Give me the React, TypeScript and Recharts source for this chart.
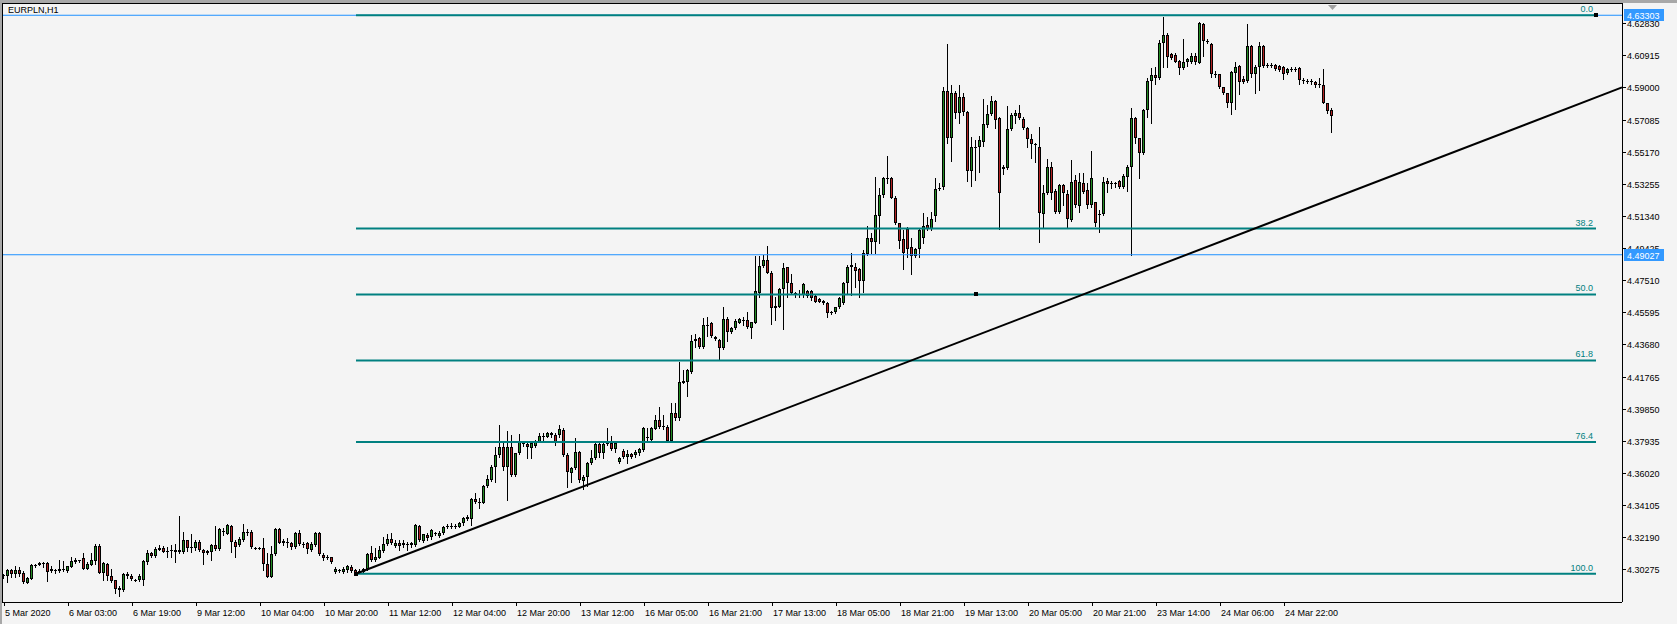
import React from "react";
import {
  ComposedChart,
  Bar,
  XAxis,
  YAxis,
  ReferenceLine,
  ReferenceDot,
} from "recharts";

// [open, high, low, close] per H1 bar, oldest first
type Ohlc = [number, number, number, number];

const mar05_09: Ohlc[] = [
  [4.2990, 4.3000, 4.2976, 4.2994], [4.2986, 4.3032, 4.2952, 4.3022], [4.3022, 4.3032, 4.2982, 4.2998],
  [4.2998, 4.3046, 4.2982, 4.3022], [4.3022, 4.3042, 4.2986, 4.2998], [4.3006, 4.3018, 4.2946, 4.2952],
  [4.2948, 4.2982, 4.2946, 4.2976], [4.2970, 4.3062, 4.2968, 4.3056], [4.3048, 4.3062, 4.3042, 4.3056],
  [4.3054, 4.3070, 4.3052, 4.3068], [4.3068, 4.3072, 4.3042, 4.3062], [4.3066, 4.3072, 4.2956, 4.3014],
  [4.3032, 4.3046, 4.3010, 4.3016], [4.3020, 4.3032, 4.3006, 4.3022], [4.3018, 4.3082, 4.3012, 4.3032],
  [4.3030, 4.3076, 4.3016, 4.3028], [4.3018, 4.3050, 4.3012, 4.3046], [4.3042, 4.3102, 4.3042, 4.3076],
  [4.3072, 4.3092, 4.3068, 4.3082], [4.3080, 4.3082, 4.3072, 4.3078], [4.3092, 4.3122, 4.3030, 4.3032],
  [4.3032, 4.3072, 4.3028, 4.3058], [4.3056, 4.3126, 4.3052, 4.3082], [4.3078, 4.3176, 4.3058, 4.3164],
  [4.3164, 4.3176, 4.3006, 4.3008], [4.3008, 4.3070, 4.2962, 4.3066], [4.3062, 4.3066, 4.2962, 4.2986],
  [4.2990, 4.3032, 4.2952, 4.2958], [4.2962, 4.2966, 4.2886, 4.2910], [4.2918, 4.2926, 4.2868, 4.2906],
  [4.2902, 4.3006, 4.2898, 4.2998], [4.2986, 4.3012, 4.2978, 4.2998], [4.2990, 4.2998, 4.2962, 4.2968],
  [4.2966, 4.2972, 4.2960, 4.2964], [4.2962, 4.2998, 4.2958, 4.2990], [4.2966, 4.3082, 4.2936, 4.3078],
  [4.3070, 4.3140, 4.3062, 4.3126], [4.3126, 4.3132, 4.3102, 4.3106], [4.3106, 4.3160, 4.3102, 4.3148],
  [4.3144, 4.3170, 4.3140, 4.3154], [4.3156, 4.3164, 4.3128, 4.3132], [4.3132, 4.3160, 4.3098, 4.3134],
  [4.3136, 4.3170, 4.3102, 4.3140], [4.3132, 4.3180, 4.3072, 4.3144], [4.3144, 4.3344, 4.3122, 4.3128],
  [4.3128, 4.3250, 4.3122, 4.3200], [4.3200, 4.3204, 4.3138, 4.3154], [4.3154, 4.3240, 4.3132, 4.3160],
  [4.3154, 4.3200, 4.3144, 4.3190], [4.3190, 4.3200, 4.3138, 4.3144], [4.3144, 4.3150, 4.3062, 4.3122],
  [4.3122, 4.3140, 4.3118, 4.3138], [4.3132, 4.3180, 4.3082, 4.3174], [4.3174, 4.3286, 4.3144, 4.3150],
  [4.3150, 4.3276, 4.3144, 4.3270], [4.3258, 4.3272, 4.3232, 4.3250], [4.3240, 4.3300, 4.3236, 4.3292],
];

const mar09_12: Ohlc[] = [
  [4.3284, 4.3290, 4.3132, 4.3192], [4.3192, 4.3200, 4.3102, 4.3162], [4.3172, 4.3220, 4.3168, 4.3210],
  [4.3200, 4.3300, 4.3198, 4.3250], [4.3250, 4.3270, 4.3234, 4.3244], [4.3250, 4.3264, 4.3152, 4.3158],
  [4.3154, 4.3158, 4.3146, 4.3152], [4.3152, 4.3162, 4.3146, 4.3150], [4.3152, 4.3214, 4.3022, 4.3062],
  [4.3062, 4.3122, 4.2980, 4.2982], [4.2982, 4.3166, 4.2980, 4.3116], [4.3116, 4.3276, 4.3112, 4.3266],
  [4.3266, 4.3276, 4.3182, 4.3186], [4.3196, 4.3210, 4.3172, 4.3186], [4.3188, 4.3214, 4.3162, 4.3184],
  [4.3186, 4.3192, 4.3146, 4.3158], [4.3158, 4.3250, 4.3152, 4.3246], [4.3246, 4.3260, 4.3172, 4.3178],
  [4.3178, 4.3192, 4.3158, 4.3176], [4.3182, 4.3188, 4.3122, 4.3146], [4.3142, 4.3192, 4.3136, 4.3178],
  [4.3172, 4.3250, 4.3168, 4.3244], [4.3244, 4.3250, 4.3112, 4.3116], [4.3112, 4.3122, 4.3082, 4.3096],
  [4.3100, 4.3112, 4.3086, 4.3102], [4.3098, 4.3102, 4.3066, 4.3072], [4.3010, 4.3042, 4.3006, 4.3030],
  [4.3024, 4.3032, 4.3012, 4.3022], [4.3012, 4.3042, 4.3008, 4.3030], [4.3022, 4.3052, 4.3012, 4.3046],
  [4.3042, 4.3052, 4.3010, 4.3016], [4.3022, 4.3032, 4.3001, 4.3004], [4.3016, 4.3028, 4.3008, 4.3020],
  [4.3012, 4.3038, 4.3008, 4.3032], [4.3032, 4.3122, 4.3022, 4.3116], [4.3122, 4.3166, 4.3078, 4.3082],
  [4.3082, 4.3152, 4.3076, 4.3102], [4.3096, 4.3166, 4.3092, 4.3142], [4.3136, 4.3220, 4.3132, 4.3176],
  [4.3176, 4.3240, 4.3172, 4.3210], [4.3210, 4.3246, 4.3176, 4.3182], [4.3166, 4.3200, 4.3162, 4.3186],
  [4.3186, 4.3200, 4.3142, 4.3166], [4.3172, 4.3200, 4.3162, 4.3186], [4.3178, 4.3192, 4.3142, 4.3176],
  [4.3172, 4.3192, 4.3162, 4.3186], [4.3172, 4.3296, 4.3166, 4.3290], [4.3284, 4.3290, 4.3196, 4.3200],
  [4.3198, 4.3240, 4.3192, 4.3236], [4.3234, 4.3244, 4.3200, 4.3214], [4.3220, 4.3270, 4.3210, 4.3260],
  [4.3240, 4.3250, 4.3232, 4.3242], [4.3224, 4.3256, 4.3220, 4.3244], [4.3242, 4.3284, 4.3238, 4.3280],
  [4.3280, 4.3300, 4.3272, 4.3288],
];

const mar12_16: Ohlc[] = [
  [4.3286, 4.3301, 4.3272, 4.3285], [4.3285, 4.3295, 4.3272, 4.3284], [4.3282, 4.3311, 4.3278, 4.3301],
  [4.3301, 4.3337, 4.3291, 4.3331], [4.3325, 4.3351, 4.3321, 4.3341], [4.3325, 4.3450, 4.3291, 4.3444],
  [4.3444, 4.3480, 4.3425, 4.3431], [4.3428, 4.3450, 4.3391, 4.3425], [4.3425, 4.3530, 4.3421, 4.3524],
  [4.3524, 4.3590, 4.3520, 4.3566], [4.3560, 4.3649, 4.3556, 4.3635], [4.3635, 4.3758, 4.3550, 4.3709],
  [4.3709, 4.3888, 4.3699, 4.3758], [4.3758, 4.3788, 4.3619, 4.3635], [4.3635, 4.3854, 4.3440, 4.3758],
  [4.3758, 4.3828, 4.3586, 4.3590], [4.3590, 4.3723, 4.3586, 4.3719], [4.3719, 4.3834, 4.3715, 4.3788],
  [4.3780, 4.3788, 4.3762, 4.3778], [4.3772, 4.3778, 4.3693, 4.3754], [4.3748, 4.3788, 4.3693, 4.3778],
  [4.3762, 4.3798, 4.3758, 4.3788], [4.3788, 4.3838, 4.3784, 4.3822], [4.3822, 4.3838, 4.3794, 4.3820],
  [4.3818, 4.3848, 4.3814, 4.3838], [4.3838, 4.3848, 4.3818, 4.3828], [4.3828, 4.3838, 4.3768, 4.3778],
  [4.3828, 4.3888, 4.3818, 4.3864], [4.3858, 4.3868, 4.3703, 4.3709], [4.3709, 4.3719, 4.3520, 4.3609],
  [4.3603, 4.3639, 4.3550, 4.3629], [4.3629, 4.3808, 4.3623, 4.3729], [4.3729, 4.3733, 4.3550, 4.3560],
  [4.3556, 4.3590, 4.3504, 4.3580], [4.3580, 4.3669, 4.3524, 4.3659], [4.3659, 4.3739, 4.3653, 4.3689],
  [4.3689, 4.3788, 4.3683, 4.3772], [4.3772, 4.3782, 4.3699, 4.3723], [4.3719, 4.3778, 4.3689, 4.3772],
  [4.3772, 4.3868, 4.3768, 4.3788], [4.3778, 4.3822, 4.3739, 4.3742], [4.3742, 4.3784, 4.3729, 4.3778],
  [4.3665, 4.3699, 4.3663, 4.3689], [4.3735, 4.3742, 4.3689, 4.3699], [4.3699, 4.3739, 4.3663, 4.3715],
  [4.3715, 4.3723, 4.3693, 4.3699], [4.3709, 4.3739, 4.3699, 4.3729], [4.3723, 4.3748, 4.3709, 4.3742],
  [4.3739, 4.3874, 4.3735, 4.3868], [4.3816, 4.3868, 4.3788, 4.3814], [4.3800, 4.3878, 4.3796, 4.3870],
  [4.3866, 4.3950, 4.3862, 4.3917], [4.3917, 4.3997, 4.3868, 4.3878], [4.3882, 4.3947, 4.3866, 4.3876],
  [4.3878, 4.3888, 4.3790, 4.3794],
];

const mar16_18: Ohlc[] = [
  [4.3794, 4.4017, 4.3790, 4.3961], [4.3961, 4.4021, 4.3917, 4.3927], [4.3927, 4.4265, 4.3917, 4.4146],
  [4.4140, 4.4215, 4.4136, 4.4152], [4.4146, 4.4219, 4.4062, 4.4215], [4.4206, 4.4424, 4.4200, 4.4388],
  [4.4388, 4.4428, 4.4355, 4.4400], [4.4404, 4.4414, 4.4345, 4.4351], [4.4351, 4.4523, 4.4345, 4.4484],
  [4.4482, 4.4529, 4.4418, 4.4478], [4.4498, 4.4504, 4.4414, 4.4418], [4.4414, 4.4418, 4.4394, 4.4398],
  [4.4394, 4.4398, 4.4279, 4.4345], [4.4345, 4.4589, 4.4341, 4.4517], [4.4517, 4.4529, 4.4390, 4.4444],
  [4.4444, 4.4474, 4.4438, 4.4468], [4.4468, 4.4517, 4.4462, 4.4508], [4.4498, 4.4523, 4.4494, 4.4517],
  [4.4516, 4.4529, 4.4484, 4.4514], [4.4514, 4.4563, 4.4464, 4.4470], [4.4464, 4.4504, 4.4404, 4.4500],
  [4.4498, 4.4895, 4.4494, 4.4686], [4.4676, 4.4895, 4.4649, 4.4835], [4.4835, 4.4901, 4.4831, 4.4871],
  [4.4871, 4.4957, 4.4792, 4.4796], [4.4796, 4.4808, 4.4488, 4.4583], [4.4597, 4.4653, 4.4514, 4.4583],
  [4.4589, 4.4702, 4.4589, 4.4696], [4.4696, 4.4855, 4.4458, 4.4821], [4.4827, 4.4831, 4.4653, 4.4732],
  [4.4732, 4.4788, 4.4668, 4.4672], [4.4676, 4.4682, 4.4653, 4.4668], [4.4668, 4.4692, 4.4653, 4.4666],
  [4.4663, 4.4732, 4.4653, 4.4728], [4.4686, 4.4692, 4.4653, 4.4659], [4.4686, 4.4692, 4.4633, 4.4643],
  [4.4659, 4.4663, 4.4619, 4.4623], [4.4639, 4.4647, 4.4619, 4.4623], [4.4629, 4.4633, 4.4609, 4.4613],
  [4.4617, 4.4623, 4.4529, 4.4553], [4.4563, 4.4567, 4.4549, 4.4553], [4.4563, 4.4593, 4.4557, 4.4589],
  [4.4589, 4.4653, 4.4583, 4.4643], [4.4613, 4.4742, 4.4609, 4.4736], [4.4732, 4.4841, 4.4668, 4.4831],
  [4.4831, 4.4915, 4.4663, 4.4839], [4.4827, 4.4851, 4.4712, 4.4808], [4.4816, 4.4821, 4.4649, 4.4748],
  [4.4748, 4.4931, 4.4682, 4.4911], [4.4907, 4.5074, 4.4901, 4.5000],
];

const mar18_20: Ohlc[] = [
  [4.5000, 4.5030, 4.4915, 4.4980], [4.4980, 4.5368, 4.4911, 4.5139], [4.5135, 4.5298, 4.4970, 4.5258],
  [4.5258, 4.5368, 4.5248, 4.5358], [4.5358, 4.5491, 4.5328, 4.5356], [4.5358, 4.5364, 4.5239, 4.5243],
  [4.5239, 4.5252, 4.5086, 4.5090], [4.5090, 4.5094, 4.4941, 4.4986], [4.4994, 4.5050, 4.4815, 4.4915],
  [4.5054, 4.5070, 4.4891, 4.4935], [4.4950, 4.5000, 4.4786, 4.4895], [4.4895, 4.4941, 4.4891, 4.4937],
  [4.4935, 4.5054, 4.4891, 4.5050], [4.5000, 4.5149, 4.4970, 4.5076], [4.5080, 4.5130, 4.5050, 4.5056],
  [4.5056, 4.5159, 4.5050, 4.5113], [4.5133, 4.5358, 4.5105, 4.5292], [4.5296, 4.5328, 4.5288, 4.5298],
  [4.5304, 4.5904, 4.5292, 4.5878], [4.5878, 4.6159, 4.5566, 4.5596], [4.5596, 4.5914, 4.5461, 4.5868],
  [4.5864, 4.5878, 4.5715, 4.5745], [4.5745, 4.5914, 4.5686, 4.5845], [4.5841, 4.5864, 4.5735, 4.5751],
  [4.5755, 4.5759, 4.5342, 4.5403], [4.5403, 4.5606, 4.5312, 4.5543], [4.5545, 4.5586, 4.5348, 4.5541],
  [4.5543, 4.5610, 4.5398, 4.5586], [4.5576, 4.5829, 4.5551, 4.5680], [4.5676, 4.5795, 4.5666, 4.5739],
  [4.5739, 4.5849, 4.5735, 4.5819], [4.5819, 4.5825, 4.5656, 4.5706], [4.5715, 4.5721, 4.5054, 4.5272],
  [4.5411, 4.5437, 4.5382, 4.5423], [4.5417, 4.5789, 4.5411, 4.5650], [4.5654, 4.5745, 4.5646, 4.5735],
  [4.5729, 4.5765, 4.5690, 4.5745], [4.5745, 4.5795, 4.5709, 4.5715], [4.5709, 4.5721, 4.5652, 4.5656],
  [4.5656, 4.5666, 4.5547, 4.5590], [4.5590, 4.5622, 4.5477, 4.5560], [4.5561, 4.5566, 4.5457, 4.5559],
  [4.5543, 4.5662, 4.4976, 4.5149], [4.5143, 4.5318, 4.5060, 4.5272], [4.5272, 4.5473, 4.5264, 4.5423],
  [4.5423, 4.5457, 4.5233, 4.5272], [4.5282, 4.5292, 4.5149, 4.5159], [4.5159, 4.5324, 4.5153, 4.5318],
  [4.5318, 4.5324, 4.5199, 4.5268], [4.5262, 4.5288, 4.5066, 4.5113], [4.5111, 4.5467, 4.5105, 4.5334],
  [4.5350, 4.5380, 4.5185, 4.5197],
];

const mar20_25: Ohlc[] = [
  [4.5195, 4.5387, 4.5159, 4.5334], [4.5328, 4.5391, 4.5268, 4.5278], [4.5288, 4.5332, 4.5179, 4.5199],
  [4.5199, 4.5521, 4.5189, 4.5358], [4.5215, 4.5219, 4.5073, 4.5089], [4.5147, 4.5169, 4.5040, 4.5143],
  [4.5145, 4.5367, 4.5139, 4.5334], [4.5344, 4.5358, 4.5278, 4.5324], [4.5330, 4.5344, 4.5298, 4.5326],
  [4.5328, 4.5338, 4.5308, 4.5326], [4.5342, 4.5348, 4.5298, 4.5308], [4.5308, 4.5383, 4.5298, 4.5373],
  [4.5367, 4.5437, 4.5284, 4.5427], [4.5427, 4.5779, 4.4899, 4.5715], [4.5715, 4.5721, 4.5566, 4.5596],
  [4.5596, 4.5600, 4.5358, 4.5511], [4.5511, 4.5771, 4.5503, 4.5765], [4.5765, 4.5954, 4.5721, 4.5940],
  [4.5940, 4.6013, 4.5689, 4.5973], [4.5973, 4.6023, 4.5920, 4.5954], [4.5954, 4.6182, 4.5948, 4.6162],
  [4.6162, 4.6317, 4.6023, 4.6212], [4.6212, 4.6222, 4.6019, 4.6079], [4.6097, 4.6107, 4.6067, 4.6077],
  [4.6093, 4.6103, 4.6049, 4.6053], [4.6057, 4.6063, 4.5979, 4.6013], [4.6013, 4.6186, 4.6007, 4.6049],
  [4.6049, 4.6073, 4.6027, 4.6067], [4.6053, 4.6103, 4.6043, 4.6087], [4.6087, 4.6107, 4.6039, 4.6049],
  [4.6047, 4.6291, 4.6043, 4.6282], [4.6278, 4.6285, 4.6087, 4.6178], [4.6178, 4.6186, 4.6166, 4.6176],
  [4.6156, 4.6162, 4.5960, 4.5979], [4.5983, 4.5997, 4.5964, 4.5981], [4.5979, 4.5983, 4.5894, 4.5900],
  [4.5900, 4.5904, 4.5858, 4.5864], [4.5864, 4.5868, 4.5781, 4.5809], [4.5809, 4.5997, 4.5739, 4.5991],
  [4.5989, 4.6053, 4.5769, 4.6023], [4.6027, 4.6033, 4.5860, 4.5934], [4.5948, 4.5968, 4.5928, 4.5934],
  [4.5940, 4.6278, 4.5934, 4.6146], [4.6146, 4.6152, 4.5964, 4.5983], [4.5979, 4.6033, 4.5864, 4.6023],
  [4.6023, 4.6172, 4.5884, 4.6146], [4.6146, 4.6152, 4.6023, 4.6027], [4.6035, 4.6043, 4.6023, 4.6033],
  [4.6033, 4.6043, 4.6023, 4.6031], [4.6033, 4.6037, 4.6003, 4.6007], [4.6027, 4.6033, 4.5999, 4.6003],
  [4.6023, 4.6027, 4.5948, 4.5983], [4.5989, 4.6015, 4.5983, 4.6011], [4.6011, 4.6019, 4.5999, 4.6009],
  [4.6010, 4.6023, 4.5999, 4.6011], [4.6013, 4.6019, 4.5920, 4.5944], [4.5942, 4.5954, 4.5928, 4.5940],
  [4.5940, 4.5950, 4.5924, 4.5938], [4.5938, 4.5948, 4.5920, 4.5936], [4.5934, 4.5940, 4.5904, 4.5914],
  [4.5922, 4.5954, 4.5904, 4.5920], [4.5914, 4.6007, 4.5805, 4.5809], [4.5805, 4.5809, 4.5749, 4.5761],
  [4.5765, 4.5775, 4.5636, 4.5729],
];

// time axis: a label every 16 bars
const dateLabels = [
  "5 Mar 2020", "6 Mar 03:00", "6 Mar 19:00", "9 Mar 12:00", "10 Mar 04:00", "10 Mar 20:00",
  "11 Mar 12:00", "12 Mar 04:00", "12 Mar 20:00", "13 Mar 12:00", "16 Mar 05:00", "16 Mar 21:00",
  "17 Mar 13:00", "18 Mar 05:00", "18 Mar 21:00", "19 Mar 13:00", "20 Mar 05:00", "20 Mar 21:00",
  "23 Mar 14:00", "24 Mar 06:00", "24 Mar 22:00",
];
const BARS_PER_LABEL = 16;

const priceTicks = [
  4.30275, 4.3219, 4.34105, 4.3602, 4.37935, 4.3985, 4.41765, 4.4368, 4.45595,
  4.4751, 4.49425, 4.5134, 4.53255, 4.5517, 4.57085, 4.59, 4.60915, 4.6283,
];

// horizontal line objects (shown with a price box on the axis)
const hLinePrices = [4.63303, 4.49027];

// fibonacci retracement from the 10 Mar low to the 23 Mar high
const fibLabels = ["0.0", "38.2", "50.0", "61.8", "76.4", "100.0"];
const fibPrices = [4.63303, 4.50585, 4.46657, 4.42728, 4.37867, 4.3001];
const fibFrom = 88;
const fibTo = 398;

// trend line from the low, extended to the right edge
const trendFrom = { i: 88, price: 4.3001 };
const trendTo = { i: 404.5, price: 4.59 };

const BG = "#f4f4f4";
const TEAL = "#008080";
const BLUE = "#1e90ff";
const BULL = "#228b22";
const BEAR = "#b22222";
const FONT = "'Liberation Sans', Arial, sans-serif";

const candles = [...mar05_09, ...mar09_12, ...mar12_16, ...mar16_18, ...mar18_20, ...mar20_25];
const data = candles.map(([open, high, low, close], i) => ({
  i,
  open,
  high,
  low,
  close,
  range: [low, high],
}));

function Candle(props: any) {
  const { x, y, width, height, payload } = props;
  if (!payload) return null;
  const { open, high, low, close } = payload;
  const top = Math.min(y, y + height);
  const bottom = Math.max(y, y + height);
  const k = high > low ? (bottom - top) / (high - low) : 0;
  const py = (v: number) => top + (high - v) * k;
  const cx = Math.floor(x + width / 2);
  const bTop = Math.round(py(Math.max(open, close)));
  const bBot = Math.round(py(Math.min(open, close)));
  const fill = close >= open ? BULL : BEAR;
  return (
    <g shapeRendering="crispEdges">
      <line x1={cx + 0.5} x2={cx + 0.5} y1={Math.round(top)} y2={Math.round(bottom) + 1} stroke="#000" />
      {bBot - bTop < 2 ? (
        <line x1={cx - 1} x2={cx + 2} y1={bTop + 0.5} y2={bTop + 0.5} stroke="#000" />
      ) : (
        <rect x={cx - 0.5} y={bTop + 0.5} width={2} height={bBot - bTop - 1} fill={fill} stroke="#000" />
      )}
    </g>
  );
}

function PriceTick(props: any) {
  const { x, y, payload } = props;
  const v = payload.value as number;
  const yy = Math.round(y);
  if (hLinePrices.includes(v)) {
    return (
      <g>
        <rect x={x + 2} y={yy - 6} width={40} height={12} fill="#3399ff" />
        <text x={x + 5} y={yy + 3.5} fill="#fff" fontSize={9} fontFamily={FONT}>
          {v.toFixed(5)}
        </text>
      </g>
    );
  }
  return (
    <g>
      <line x1={x} x2={x + 4} y1={yy + 0.5} y2={yy + 0.5} stroke="#000" shapeRendering="crispEdges" />
      <text x={x + 5} y={yy + 3.5} fill="#000" fontSize={9} fontFamily={FONT}>
        {v.toFixed(5)}
      </text>
    </g>
  );
}

function DateTick(props: any) {
  const { x, y, payload } = props;
  const k = Math.round(payload.value / BARS_PER_LABEL);
  return (
    <text x={Math.round(x) + 1} y={y + 10} fill="#000" fontSize={9} fontFamily={FONT}>
      {dateLabels[k]}
    </text>
  );
}

export default function App() {
  const dateTicks = dateLabels.map((_, k) => k * BARS_PER_LABEL);
  const lastIdx = data.length - 1;

  return (
    <div
      style={{
        position: "fixed",
        left: 0,
        top: 0,
        width: 1677,
        height: 624,
        background: BG,
        overflow: "hidden",
      }}
    >
      {/* window border + chart frame */}
      <div style={{ position: "absolute", left: 0, top: 0, width: 2, height: 624, background: "#a8a8a8" }} />
      <div style={{ position: "absolute", left: 0, top: 0, width: 1677, height: 3, background: "#a8a8a8" }} />
      <div style={{ position: "absolute", left: 2, top: 3, width: 1621, height: 1, background: "#000" }} />
      <div style={{ position: "absolute", left: 2, top: 3, width: 1, height: 600, background: "#000" }} />

      <div style={{ position: "absolute", left: 0, top: 0 }}>
        <ComposedChart
          width={1677}
          height={624}
          data={data}
          margin={{ top: 4, right: 0, bottom: 0, left: 3 }}
        >
          <XAxis
            dataKey="i"
            type="number"
            domain={[-0.25, 404.5]}
            allowDataOverflow
            ticks={dateTicks}
            interval={0}
            tickSize={4}
            tickMargin={0}
            tickLine={{ stroke: "#000", shapeRendering: "crispEdges" }}
            axisLine={{ stroke: "#000", shapeRendering: "crispEdges" }}
            tick={<DateTick />}
            height={22}
          />
          <YAxis
            orientation="right"
            type="number"
            domain={[4.28326, 4.63974]}
            allowDataOverflow
            ticks={[...priceTicks, ...hLinePrices]}
            interval={0}
            tickSize={0}
            tickMargin={0}
            tickLine={false}
            axisLine={{ stroke: "#000", shapeRendering: "crispEdges" }}
            tick={<PriceTick />}
            width={55}
          />
          <Bar dataKey="range" barSize={3} isAnimationActive={false} shape={(p: any) => <Candle {...p} />} />

          {hLinePrices.map((p) => (
            <ReferenceLine key={`h${p}`} y={p} stroke={BLUE} strokeWidth={1} />
          ))}
          {fibPrices.map((p) => (
            <ReferenceLine
              key={`f${p}`}
              segment={[
                { x: fibFrom, y: p },
                { x: fibTo, y: p },
              ]}
              stroke={TEAL}
              strokeWidth={2}
            />
          ))}
          <ReferenceLine
            segment={[
              { x: trendFrom.i, y: trendFrom.price },
              { x: trendTo.i, y: trendTo.price },
            ]}
            stroke="#000"
            strokeWidth={2}
          />
          {fibPrices.map((p, n) => (
            <ReferenceDot
              key={`fl${p}`}
              x={fibTo}
              y={p}
              r={0}
              ifOverflow="visible"
              shape={(s: any) => (
                <text x={s.cx - 3} y={s.cy - 3} textAnchor="end" fill={TEAL} fontSize={9} fontFamily={FONT}>
                  {fibLabels[n]}
                </text>
              )}
            />
          ))}
          {[
            { x: fibFrom, y: fibPrices[5] },
            { x: (fibFrom + fibTo) / 2, y: fibPrices[2] },
            { x: fibTo, y: fibPrices[0] },
          ].map((a) => (
            <ReferenceDot
              key={`a${a.x}`}
              x={a.x}
              y={a.y}
              r={0}
              ifOverflow="visible"
              shape={(s: any) => (
                <rect x={Math.round(s.cx) - 2} y={Math.round(s.cy) - 2} width={4} height={4} fill="#000" />
              )}
            />
          ))}
          <ReferenceDot
            x={lastIdx}
            y={4.63974}
            r={0}
            ifOverflow="visible"
            shape={(s: any) => (
              <polygon
                points={`${s.cx - 4},${s.cy + 1} ${s.cx + 5},${s.cy + 1} ${s.cx + 0.5},${s.cy + 6}`}
                fill="#a0a0a0"
              />
            )}
          />
        </ComposedChart>
      </div>

      <div
        style={{
          position: "absolute",
          left: 8,
          top: 5,
          fontFamily: FONT,
          fontSize: 9,
          lineHeight: "11px",
          color: "#000",
        }}
      >
        EURPLN,H1
      </div>
    </div>
  );
}
